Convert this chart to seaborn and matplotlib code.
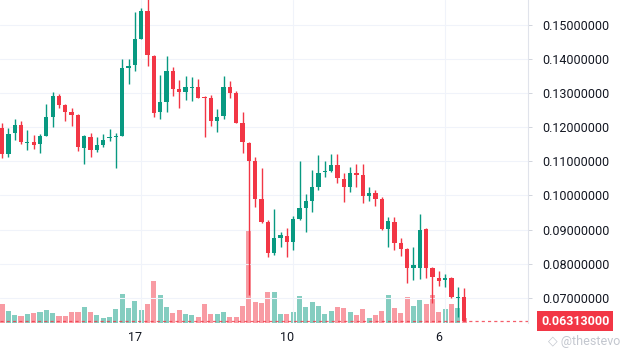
import numpy as np
import pandas as pd
import seaborn as sns
import matplotlib.pyplot as plt
import matplotlib.transforms as mtransforms

# daily candles, 26 Dec 2022 .. 9 Mar 2023
dates = pd.date_range("2022-12-26", periods=74, freq="D")

opens = [0.1199, 0.1122, 0.1182, 0.1207, 0.1155, 0.1157, 0.1150, 0.1175, 0.1231, 0.1292,
         0.1265, 0.1244, 0.1235, 0.1140, 0.1171, 0.1132, 0.1147, 0.1169, 0.1172, 0.1175,
         0.1374, 0.1383, 0.1460, 0.1541, 0.1409, 0.1244, 0.1274, 0.1365, 0.1311, 0.1304,
         0.1316, 0.1317, 0.1289, 0.1285, 0.1217, 0.1233, 0.1317, 0.1300, 0.1213, 0.1155,
         0.1101, 0.0989, 0.0923, 0.0830, 0.0876, 0.0882, 0.0865, 0.0931, 0.0962, 0.0984,
         0.1026, 0.1068, 0.1072, 0.1089, 0.1047, 0.1024, 0.1065, 0.1060, 0.0999, 0.1006,
         0.0990, 0.0901, 0.0923, 0.0860, 0.0842, 0.0788, 0.0788, 0.0901, 0.0788, 0.0759,
         0.0752, 0.0759, 0.0699, 0.0701]
highs = [0.1213, 0.1197, 0.1224, 0.1219, 0.1192, 0.1178, 0.1180, 0.1268, 0.1304, 0.1297,
         0.1268, 0.1256, 0.1239, 0.1178, 0.1182, 0.1171, 0.1180, 0.1194, 0.1182, 0.1400,
         0.1400, 0.1539, 0.1549, 0.1580, 0.1412, 0.1353, 0.1409, 0.1378, 0.1339, 0.1351,
         0.1347, 0.1342, 0.1293, 0.1295, 0.1254, 0.1351, 0.1337, 0.1305, 0.1246, 0.1157,
         0.1112, 0.1080, 0.0928, 0.0960, 0.0894, 0.0906, 0.0940, 0.1101, 0.1004, 0.1075,
         0.1119, 0.1101, 0.1122, 0.1122, 0.1067, 0.1084, 0.1092, 0.1092, 0.1026, 0.1016,
         0.0995, 0.0936, 0.0938, 0.0874, 0.0845, 0.0850, 0.0946, 0.0904, 0.0791, 0.0778,
         0.0769, 0.0762, 0.0733, 0.0728]
lows = [0.1109, 0.1112, 0.1163, 0.1151, 0.1133, 0.1136, 0.1126, 0.1173, 0.1202, 0.1256,
        0.1217, 0.1205, 0.1131, 0.1092, 0.1112, 0.1127, 0.1143, 0.1159, 0.1082, 0.1173,
        0.1327, 0.1366, 0.1458, 0.1381, 0.1229, 0.1224, 0.1246, 0.1293, 0.1256, 0.1280,
        0.1278, 0.1285, 0.1172, 0.1205, 0.1187, 0.1224, 0.1285, 0.1212, 0.1124, 0.0708,
        0.0967, 0.0920, 0.0819, 0.0826, 0.0848, 0.0821, 0.0840, 0.0928, 0.0892, 0.0953,
        0.1016, 0.1053, 0.1068, 0.1038, 0.0980, 0.1011, 0.1026, 0.0979, 0.0984, 0.0970,
        0.0899, 0.0848, 0.0840, 0.0823, 0.0743, 0.0752, 0.0754, 0.0757, 0.0684, 0.0734,
        0.0733, 0.0699, 0.0645, 0.06313]
closes = [0.1122, 0.1180, 0.1207, 0.1158, 0.1158, 0.1148, 0.1173, 0.1230, 0.1292, 0.1266,
          0.1246, 0.1235, 0.1141, 0.1173, 0.1132, 0.1147, 0.1163, 0.1172, 0.1174, 0.1373,
          0.1380, 0.1458, 0.1541, 0.1412, 0.1243, 0.1273, 0.1365, 0.1311, 0.1304, 0.1317,
          0.1318, 0.1287, 0.1285, 0.1217, 0.1230, 0.1317, 0.1301, 0.1213, 0.1158, 0.1102,
          0.0990, 0.0923, 0.0830, 0.0874, 0.0883, 0.0865, 0.0931, 0.0962, 0.0984, 0.1026,
          0.1067, 0.1072, 0.1089, 0.1050, 0.1024, 0.1065, 0.1061, 0.0999, 0.1006, 0.0990,
          0.0901, 0.0925, 0.0862, 0.0842, 0.0788, 0.0796, 0.0899, 0.0788, 0.0760, 0.0750,
          0.0759, 0.0701, 0.0702, 0.06313]
# volume, millions
volumes = [1.9, 1.2, 0.8, 0.7, 0.9, 1.0, 1.1, 1.3, 1.0, 0.7,
           0.7, 1.1, 1.1, 1.6, 1.1, 0.8, 0.5, 0.6, 1.4, 2.9,
           1.5, 2.2, 1.3, 1.9, 4.2, 2.8, 1.6, 1.0, 1.3, 0.9,
           0.8, 0.6, 1.9, 0.9, 0.9, 1.1, 0.6, 0.6, 1.7, 9.3,
           2.1, 2.0, 3.1, 3.1, 0.9, 0.9, 1.1, 2.7, 1.6, 2.1,
           1.7, 0.9, 1.2, 1.6, 1.5, 1.1, 0.8, 1.4, 0.5, 0.8,
           1.2, 2.8, 1.5, 1.0, 2.6, 1.7, 2.3, 1.9, 2.8, 1.1,
           1.4, 1.9, 1.5, 0.5]

last_price = 0.06313
price_ticks = [0.07, 0.08, 0.09, 0.10, 0.11, 0.12, 0.13, 0.14, 0.15]
tick_dates = ["2023-01-17", "2023-02-10", "2023-03-06"]
tick_labels = ["17", "10", "6"]

UP, DOWN = "#089981", "#F23645"
UP_VOL, DOWN_VOL = "#84cdc0", "#f89ba3"
TEXT = "#131722"
GRID = "#f0f3fa"

df = pd.DataFrame({"date": dates, "open": opens, "high": highs, "low": lows,
                   "close": closes, "volume": volumes})
df["idx"] = np.arange(len(df))
df["dir"] = np.where(df["close"] >= df["open"], "up", "down")

sns.set_theme(style="white")
plt.rcParams["font.family"] = ["Roboto", "DejaVu Sans"]

fig = plt.figure(figsize=(6.28, 3.53), dpi=100)
ax = fig.add_axes([0, 30 / 353, 528 / 628, 323 / 353])
vol_ax = ax.twinx()

# volume bars under the candles
sns.barplot(data=df, x="idx", y="volume", hue="dir", palette={"up": UP_VOL, "down": DOWN_VOL},
            native_scale=True, width=0.8, dodge=False, legend=False, errorbar=None,
            saturation=1, linewidth=0, ax=vol_ax)
vol_ax.set_ylim(0, 32.3)
vol_ax.set_yticks([])
vol_ax.set_xlabel("")
vol_ax.set_ylabel("")
for s in vol_ax.spines.values():
    s.set_visible(False)

ax.set_zorder(vol_ax.get_zorder() + 1)
ax.patch.set_visible(False)

colors = np.where(df["dir"] == "up", UP, DOWN)
body_low = df[["open", "close"]].min(axis=1)
body_h = (df["close"] - df["open"]).abs().clip(lower=0.00025)
ax.vlines(df["idx"], df["low"], df["high"], colors=colors, lw=1.0, zorder=3)
ax.bar(df["idx"], body_h, bottom=body_low, width=0.68, color=colors, lw=0, zorder=4)

ax.axhline(last_price, color=DOWN, lw=0.9, ls=(0, (2.5, 2.5)), alpha=0.8, zorder=5)

ax.set_xlim(-0.32, 83.1)
vol_ax.set_xlim(-0.32, 83.1)
ax.set_ylim(0.0626, 0.15733)

tick_pos = df.set_index("date").index.get_indexer(pd.to_datetime(tick_dates))
ax.set_xticks(tick_pos, tick_labels)
ax.set_yticks(price_ticks, [f"{p:.8f}" for p in price_ticks])
ax.yaxis.tick_right()
ax.grid(True, color=GRID, lw=0.8)
ax.tick_params(axis="x", length=0, pad=6, labelsize=9, colors=TEXT)
ax.tick_params(axis="y", length=3, width=0.7, color="#d1d4dc", pad=7, labelsize=9, colors=TEXT)

shift = mtransforms.ScaledTranslation(-6 / 100, 0, fig.dpi_scale_trans)
for lab in ax.get_xticklabels():
    lab.set_transform(lab.get_transform() + shift)

for name, s in ax.spines.items():
    s.set_visible(name == "right")
ax.spines["right"].set_color("#e0e3eb")
ax.spines["right"].set_linewidth(0.8)

# last price tag
trans = mtransforms.blended_transform_factory(ax.transAxes, ax.transData)
ax.text(1.0 + 13 / 528, last_price, f"{last_price:.8f}", transform=trans, ha="left", va="center",
        fontsize=9, fontweight="bold", color="white", zorder=10, clip_on=False,
        bbox=dict(boxstyle="square,pad=0.3", fc=DOWN, ec="none"))

fig.text(548 / 628, 1 - 341 / 353, "\u25c7 @thestevo", fontsize=9, color="#c3c7cf",
         va="center", ha="left", family=["Roboto", "DejaVu Sans"])

fig.savefig("out.png", dpi=100)
